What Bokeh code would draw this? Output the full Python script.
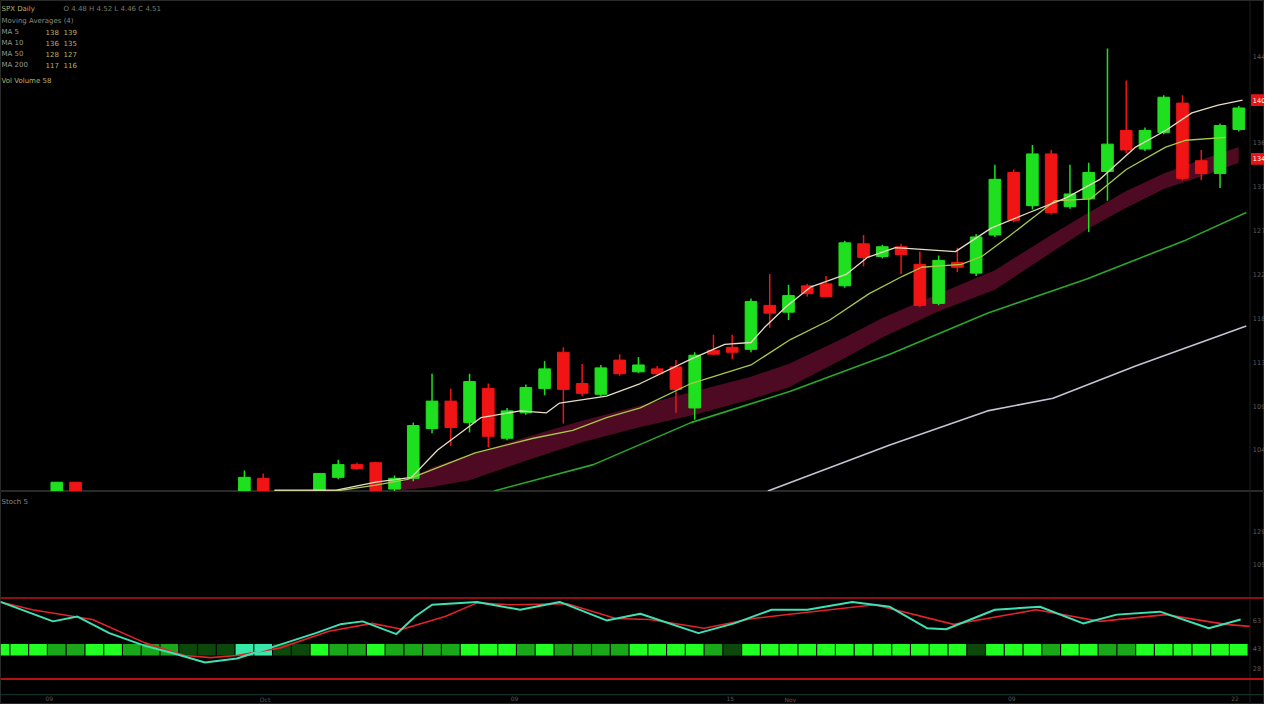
from bokeh.plotting import figure
from bokeh.layouts import column
from bokeh.models import ColumnDataSource, Range1d, Span, Label
from bokeh.embed import file_html
from bokeh.resources import INLINE
from bokeh.core.properties import value

# ---------------- data ----------------
candle_idx = [0, 1, 10, 11, 14, 15, 16, 17, 18, 19, 20, 21, 22, 23, 24, 25, 26, 27, 28, 29, 30,
              31, 32, 33, 34, 35, 36, 37, 38, 39, 40, 41, 42, 43, 44, 45, 46, 47, 48, 49, 50,
              51, 52, 53, 54, 55, 56, 57, 58, 59, 60, 61, 62, 63]
opens = [100.0, 100.9, 100.0, 101.3, 100.0, 101.4, 102.7, 102.9, 100.2, 101.3, 106.4, 109.2, 107.0,
         110.5, 105.4, 108.0, 110.5, 114.2, 111.0, 109.9, 113.4, 112.2, 112.5, 112.7, 108.5, 114.4,
         114.7, 114.5, 119.0, 118.3, 121.0, 121.2, 121.0, 125.3, 124.0, 125.0, 123.2, 119.2, 123.4,
         122.3, 126.2, 132.6, 129.2, 134.5, 129.1, 129.9, 132.7, 136.9, 135.0, 136.7, 139.7, 133.8,
         132.5, 137.0]
highs = [100.9, 100.9, 102.1, 101.8, 101.8, 103.2, 102.9, 103.0, 101.6, 107.0, 112.0, 110.5, 112.0,
         111.0, 108.5, 110.9, 113.3, 114.7, 113.0, 112.9, 114.0, 113.7, 112.8, 113.4, 114.2, 116.0,
         116.0, 119.7, 122.2, 121.1, 121.2, 122.0, 125.6, 126.2, 125.2, 125.3, 124.5, 124.1, 124.9,
         126.3, 133.4, 132.9, 135.4, 134.9, 133.4, 133.6, 145.3, 142.0, 137.2, 140.5, 140.5, 134.9,
         137.6, 139.4]
lows = [100.0, 100.0, 100.0, 100.0, 100.0, 101.2, 102.2, 100.0, 100.0, 101.0, 105.9, 104.6, 106.0,
        104.5, 105.2, 107.8, 109.8, 106.9, 109.7, 109.7, 111.8, 112.1, 111.9, 108.0, 107.3, 113.9,
        113.5, 114.2, 116.7, 117.5, 119.9, 119.9, 120.8, 123.0, 123.8, 122.2, 118.8, 119.0, 122.4,
        122.0, 126.0, 127.5, 128.8, 128.3, 128.9, 126.5, 129.7, 134.6, 134.8, 136.5, 131.8, 131.8,
        131.0, 136.8]
closes = [100.9, 100.0, 101.4, 100.0, 101.8, 102.7, 102.3, 100.0, 101.3, 106.7, 109.2, 106.5, 111.2,
          105.6, 108.2, 110.6, 112.5, 110.4, 110.0, 112.6, 112.0, 112.9, 112.0, 110.4, 113.9, 114.0,
          114.2, 119.4, 118.2, 120.0, 120.2, 119.9, 125.4, 123.9, 125.0, 124.2, 119.0, 123.6, 122.9,
          126.0, 131.9, 127.7, 134.5, 128.5, 130.4, 132.6, 135.5, 134.9, 136.9, 140.3, 132.0, 132.5,
          137.4, 139.2]

# moving averages
ma5_x = [11.6, 14.9, 17.0, 18.9, 20.3, 22.6, 24.7, 26.1, 26.8, 29.3, 31.1, 33.8, 35.6, 37.0, 37.7,
         38.9, 40.2, 42.1, 43.2, 44.7, 47.9, 49.8, 51.7, 53.8, 55.6, 57.5, 59.1, 60.5, 61.9, 63.2]
ma5_y = [100.1, 100.1, 100.9, 101.4, 104.2, 107.5, 108.2, 108.0, 109.0, 109.7, 111.0, 113.5, 115.0,
         115.2, 116.7, 118.9, 120.9, 122.2, 123.9, 124.9, 124.5, 126.9, 128.4, 130.0, 131.9, 135.2,
         136.9, 138.7, 139.5, 140.0]
ma10_x = [11.6, 14.9, 17.0, 18.7, 22.3, 25.4, 27.5, 29.3, 31.1, 33.8, 37.0, 39.1, 41.2, 43.3, 45.1,
          46.1, 48.2, 49.3, 50.7, 53.2, 55.1, 57.0, 59.1, 60.2, 62.3]
ma10_y = [100.0, 100.0, 100.6, 101.2, 103.9, 105.4, 106.2, 107.5, 108.5, 111.0, 112.9, 115.5, 117.5,
          120.2, 122.0, 122.9, 123.2, 124.0, 126.0, 129.7, 129.9, 132.9, 135.2, 135.9, 136.2]
ma50_x = [23.3, 28.6, 33.8, 39.1, 44.4, 49.6, 54.9, 60.2, 63.4]
ma50_y = [100.0, 102.7, 107.0, 110.2, 114.0, 118.2, 121.7, 125.7, 128.5]
ma200_x = [37.9, 44.4, 49.6, 53.1, 57.5, 63.4]
ma200_y = [100.0, 104.7, 108.2, 109.5, 112.8, 116.9]

band_x = [18, 20, 22, 25, 28, 31, 34, 37, 39, 42, 44, 47, 50, 53, 55, 57, 59, 61, 63]
band_upper = [100.5, 102.4, 103.7, 105.5, 107.2, 108.7, 110.2, 111.7, 113.0, 115.7, 117.7, 120.2,
              122.6, 126.2, 128.5, 130.7, 132.5, 133.9, 135.2]
band_lower = [100.0, 100.4, 101.1, 103.1, 105.0, 106.5, 107.8, 109.4, 110.6, 113.6, 115.7, 118.4,
              120.6, 124.4, 126.9, 129.0, 130.9, 132.2, 133.6]

price_ticks = [104.2, 108.7, 113.2, 117.7, 122.2, 126.7, 131.2, 135.7, 140.2, 144.5]
price_tags = [140.0, 134.0]

# oscillator
k_x = [-3.0, -0.2, 1.1, 2.8, 4.7, 6.3, 7.9, 9.6, 11.7, 13.8, 15.1, 16.3, 18.1, 19.1, 20.0, 22.4,
       24.7, 26.8, 29.3, 31.1, 34.2, 36.1, 38.1, 40.0, 42.4, 44.4, 46.4, 47.4, 50.0, 52.4, 54.7,
       56.5, 58.8, 61.4, 63.1]
k_y = [77.1, 62.7, 66.3, 54.0, 44.6, 38.8, 32.3, 35.2, 44.6, 54.0, 60.5, 62.7, 53.3, 66.3, 75.0,
       77.1, 71.3, 77.1, 63.4, 68.4, 54.0, 61.2, 71.3, 71.3, 77.1, 73.5, 57.6, 56.9, 71.3, 73.5,
       61.2, 67.7, 69.9, 57.6, 64.1]
d_x = [-3.0, -1.3, 1.9, 4.7, 6.8, 8.2, 9.6, 11.9, 14.5, 16.8, 18.4, 20.7, 22.4, 24.2, 27.2, 29.8,
       31.6, 34.5, 37.1, 39.3, 43.6, 47.8, 52.2, 55.6, 59.1, 62.3, 63.6]
d_y = [77.1, 71.3, 64.1, 46.8, 37.4, 35.9, 37.4, 43.1, 55.4, 61.2, 56.9, 66.3, 76.4, 75.0, 75.7,
       64.8, 64.1, 57.6, 64.8, 68.4, 75.0, 60.5, 71.3, 62.7, 67.7, 60.5, 59.0]
osc_upper = 80
osc_lower = 20
osc_ticks = [28, 43, 63, 105, 129]

strip_idx = list(range(-3, 64))
strip_level = [3, 3, 3, 2, 2, 3, 3, 2, 2, 2, 1, 1, 1, 4, 4, 1, 1, 3, 2, 2, 3, 2, 2, 2, 2, 3, 3, 3,
               2, 3, 2, 2, 2, 2, 3, 3, 3, 3, 2, 1, 3, 3, 3, 3, 3, 3, 3, 3, 3, 3, 3, 3, 1, 3, 3, 3,
               2, 3, 3, 2, 2, 3, 3, 3, 3, 3, 3]
strip_bottom = 37.4
strip_top = 46.0

date_ticks = [-0.4, 11.1, 24.4, 35.9, 39.1, 50.9, 62.8]
date_labels = ["09", "Oct", "09", "15", "Nov", "09", "22"]

# ---------------- styling ----------------
BG = "#000000"
GREEN = "#1fe01f"
RED = "#f01414"
FONT = "DejaVu Sans"
W = 1264
X_LEFT, X_RIGHT = -3.0, 64.37     # full page width in candle-index units
AXIS_X = 63.6                      # price-axis separator position
LABEL_X = 63.75
TIME_AXIS_Y = 8.5                  # time-axis line inside the lower panel
X_RANGE = Range1d(X_LEFT, X_RIGHT)


def style_fig(p):
    p.grid.visible = False
    p.yaxis.visible = False
    p.xaxis.visible = False
    p.add_layout(Span(location=AXIS_X, dimension="height", line_color="#1e1e1e", line_width=1))


# ---------------- price panel ----------------
top = figure(width=W, height=491, x_range=X_RANGE, y_range=Range1d(99.95, 150.2),
             output_backend="svg", toolbar_location=None,
             background_fill_color=BG, border_fill_color=BG, outline_line_color="#2a2a2a",
             min_border_left=0, min_border_top=0, min_border_bottom=0, min_border_right=0)
style_fig(top)

top.varea(x=band_x, y1=band_lower, y2=band_upper, fill_color="#5c0c28", fill_alpha=0.85)
top.line(ma200_x, ma200_y, line_color="#c4c4d4", line_width=1.6)
top.line(ma50_x, ma50_y, line_color="#2aa82a", line_width=1.6)

colors = [GREEN if c >= o else RED for o, c in zip(opens, closes)]
src = ColumnDataSource(dict(x=candle_idx, o=opens, h=highs, l=lows, c=closes,
                            top=[max(o, c) for o, c in zip(opens, closes)],
                            bot=[min(o, c) for o, c in zip(opens, closes)],
                            color=colors))
top.segment(x0="x", y0="h", x1="x", y1="l", line_color="color", line_width=1.5, source=src)
top.vbar(x="x", top="top", bottom="bot", width=0.62, fill_color="color", line_color="color",
         source=src)

top.line(ma10_x, ma10_y, line_color="#a8c848", line_width=1.3)
top.line(ma5_x, ma5_y, line_color="#e6dec2", line_width=1.3)

# right-hand price scale drawn as text beside the separator
top.text(x=[LABEL_X] * len(price_ticks), y=price_ticks,
         text=[str(round(t)) for t in price_ticks], text_font=value(FONT),
         text_font_size="6.5px", text_color="#5e5e5e", text_baseline="middle")
top.quad(left=[AXIS_X + 0.05] * len(price_tags), right=[X_RIGHT] * len(price_tags),
         bottom=[t - 0.6 for t in price_tags], top=[t + 0.6 for t in price_tags],
         fill_color="#e81414", line_color=None)
top.text(x=[LABEL_X] * len(price_tags), y=price_tags,
         text=[str(round(t)) for t in price_tags], text_font=value(FONT),
         text_font_size="6.5px", text_color="#ffffff", text_baseline="middle")

legend_rows = [
    (0, 8, "SPX Daily", "#b8b060"),
    (62, 8, "O 4.48  H 4.52  L 4.46  C 4.51", "#7a7a6a"),
    (0, 20, "Moving Averages (4)", "#8a8a7a"),
    (0, 31, "MA 5", "#9a9a8a"), (44, 31, "138", "#b8b060"), (62, 31, "139", "#b8b060"),
    (0, 42, "MA 10", "#9a9a8a"), (44, 42, "136", "#b8b060"), (62, 42, "135", "#b8b060"),
    (0, 53, "MA 50", "#9a9a8a"), (44, 53, "128", "#b8b060"), (62, 53, "127", "#b8b060"),
    (0, 64, "MA 200", "#9a9a8a"), (44, 64, "117", "#b8b060"), (62, 64, "116", "#b8b060"),
    (0, 80, "Vol  Volume 58", "#b8b060"),
]
for x, y, t, col in legend_rows:
    top.add_layout(Label(x=x + 1, y=491 - y, x_units="screen", y_units="screen", text=t,
                         text_font_size="7px", text_color=col, text_font=FONT,
                         text_baseline="middle"))

# ---------------- oscillator panel ----------------
bot = figure(width=W, height=213, x_range=X_RANGE, y_range=Range1d(1.2, 158.8),
             output_backend="svg", toolbar_location=None,
             background_fill_color=BG, border_fill_color=BG, outline_line_color="#2a2a2a",
             min_border_left=0, min_border_top=0, min_border_bottom=0, min_border_right=0)
style_fig(bot)

bot.add_layout(Span(location=osc_upper, dimension="width", line_color="#8c1010", line_width=2))
bot.add_layout(Span(location=osc_lower, dimension="width", line_color="#b81010", line_width=2))
bot.add_layout(Span(location=TIME_AXIS_Y, dimension="width", line_color="#123a34",
                    line_width=1))

level_colors = {1: "#0c480c", 2: "#1aa81a", 3: "#22ff22", 4: "#38e8a8"}
ssrc = ColumnDataSource(dict(x=strip_idx, color=[level_colors[v] for v in strip_level]))
bot.vbar(x="x", top=strip_top, bottom=strip_bottom, width=0.94, fill_color="color",
         line_color=None, source=ssrc)

bot.line(d_x, d_y, line_color="#e0242a", line_width=1.6)
bot.line(k_x, k_y, line_color="#3ee0b4", line_width=2)

bot.text(x=[LABEL_X] * len(osc_ticks), y=osc_ticks, text=[str(t) for t in osc_ticks],
         text_font=value(FONT), text_font_size="6.5px", text_color="#5e5e5e",
         text_baseline="middle")
bot.text(x=date_ticks, y=[TIME_AXIS_Y - 0.8] * len(date_ticks), text=date_labels,
         text_font=value(FONT), text_font_size="6px", text_color="#5a5a5a",
         text_baseline="top", text_align="center")
bot.text(x=[X_LEFT + 0.05], y=[151], text=["Stoch 5"], text_font=value(FONT),
         text_font_size="7px", text_color="#8a8a8a", text_baseline="middle")

layout = column(top, bot, spacing=0, styles={"background-color": "#000000"})
open("out.html", "w").write(file_html(layout, INLINE))
